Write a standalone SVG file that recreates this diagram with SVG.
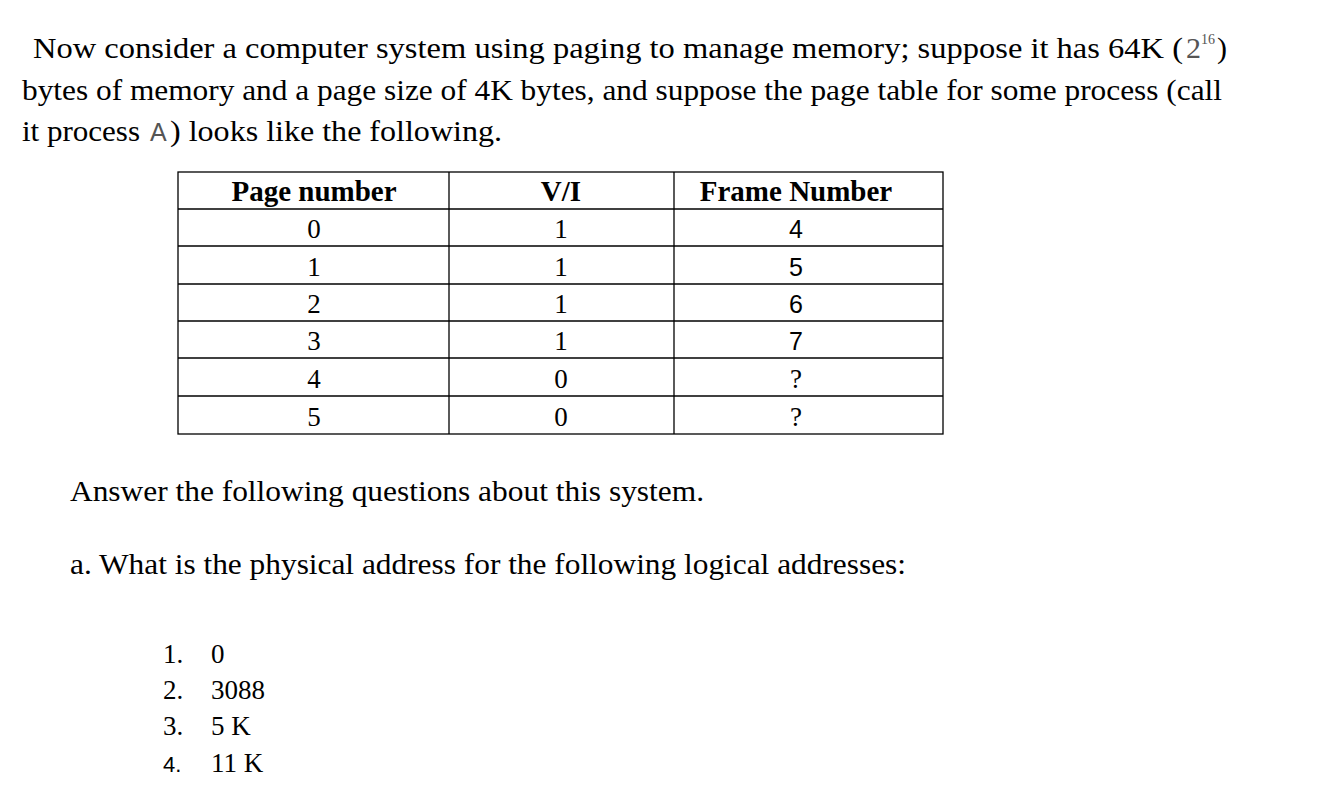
<svg xmlns="http://www.w3.org/2000/svg" width="1335" height="809" viewBox="0 0 1335 809">
<style>
.t{font-family:"Liberation Serif",serif;font-size:30px;fill:#000}
.c{font-family:"Liberation Serif",serif;font-size:27px;fill:#000;text-anchor:middle}
.s{font-family:"Liberation Sans",sans-serif;font-size:25px;fill:#000;text-anchor:middle}
.h{font-weight:bold;font-size:29px}
.g{fill:#555}
.sans{font-family:"Liberation Sans",sans-serif}
line{stroke:#000;stroke-width:1.3}
</style>
<rect width="1335" height="809" fill="#fff"/>
<text class="t" x="33" y="58" textLength="1150" lengthAdjust="spacingAndGlyphs">Now consider a computer system using paging to manage memory; suppose it has 64K (</text>
<text class="t g" x="1186" y="58">2</text>
<text class="t g" x="1201" y="44" style="font-size:14px">16</text>
<text class="t" x="1217" y="58">)</text>
<text class="t" x="22" y="100" textLength="1200" lengthAdjust="spacingAndGlyphs">bytes of memory and a page size of 4K bytes, and suppose the page table for some process (call</text>
<text class="t" x="22" y="141" textLength="118" lengthAdjust="spacingAndGlyphs">it process</text>
<text class="t g sans" x="150" y="141" style="font-size:25px">A</text>
<text class="t" x="170" y="141" textLength="332" lengthAdjust="spacingAndGlyphs">) looks like the following.</text>
<g id="table">
<rect x="178" y="172" width="765" height="262" fill="none" stroke="#000" stroke-width="1.3"/>
<line x1="449" y1="172" x2="449" y2="434"/><line x1="674" y1="172" x2="674" y2="434"/>
<line x1="178" y1="209" x2="943" y2="209"/><line x1="178" y1="246" x2="943" y2="246"/>
<line x1="178" y1="284" x2="943" y2="284"/><line x1="178" y1="321" x2="943" y2="321"/>
<line x1="178" y1="358" x2="943" y2="358"/><line x1="178" y1="396" x2="943" y2="396"/>
<text class="c h" x="314" y="201">Page number</text>
<text class="c h" x="561" y="201">V/I</text>
<text class="c h" x="796" y="201">Frame Number</text>
<text class="c" x="314" y="238">0</text><text class="c" x="561" y="238">1</text><text class="s" x="796" y="238">4</text>
<text class="c" x="314" y="276">1</text><text class="c" x="561" y="276">1</text><text class="s" x="796" y="276">5</text>
<text class="c" x="314" y="313">2</text><text class="c" x="561" y="313">1</text><text class="s" x="796" y="313">6</text>
<text class="c" x="314" y="350">3</text><text class="c" x="561" y="350">1</text><text class="s" x="796" y="350">7</text>
<text class="c" x="314" y="388">4</text><text class="c" x="561" y="388">0</text><text class="c" x="796" y="388">?</text>
<text class="c" x="314" y="426">5</text><text class="c" x="561" y="426">0</text><text class="c" x="796" y="426">?</text>
</g>
<text class="t" x="70" y="501" textLength="634" lengthAdjust="spacingAndGlyphs">Answer the following questions about this system.</text>
<text class="t" x="70" y="574" textLength="836" lengthAdjust="spacingAndGlyphs">a. What is the physical address for the following logical addresses:</text>
<text class="t" x="163" y="663" style="font-size:27px">1.</text><text class="t" x="211" y="663" style="font-size:27px">0</text>
<text class="t" x="163" y="699" style="font-size:27px">2.</text><text class="t" x="211" y="699" style="font-size:27px">3088</text>
<text class="t" x="163" y="735" style="font-size:27px">3.</text><text class="t" x="211" y="735" style="font-size:27px">5 K</text>
<text class="t sans" x="163" y="772" style="font-size:22px">4.</text><text class="t" x="211" y="772" style="font-size:27px">11 K</text>
</svg>
